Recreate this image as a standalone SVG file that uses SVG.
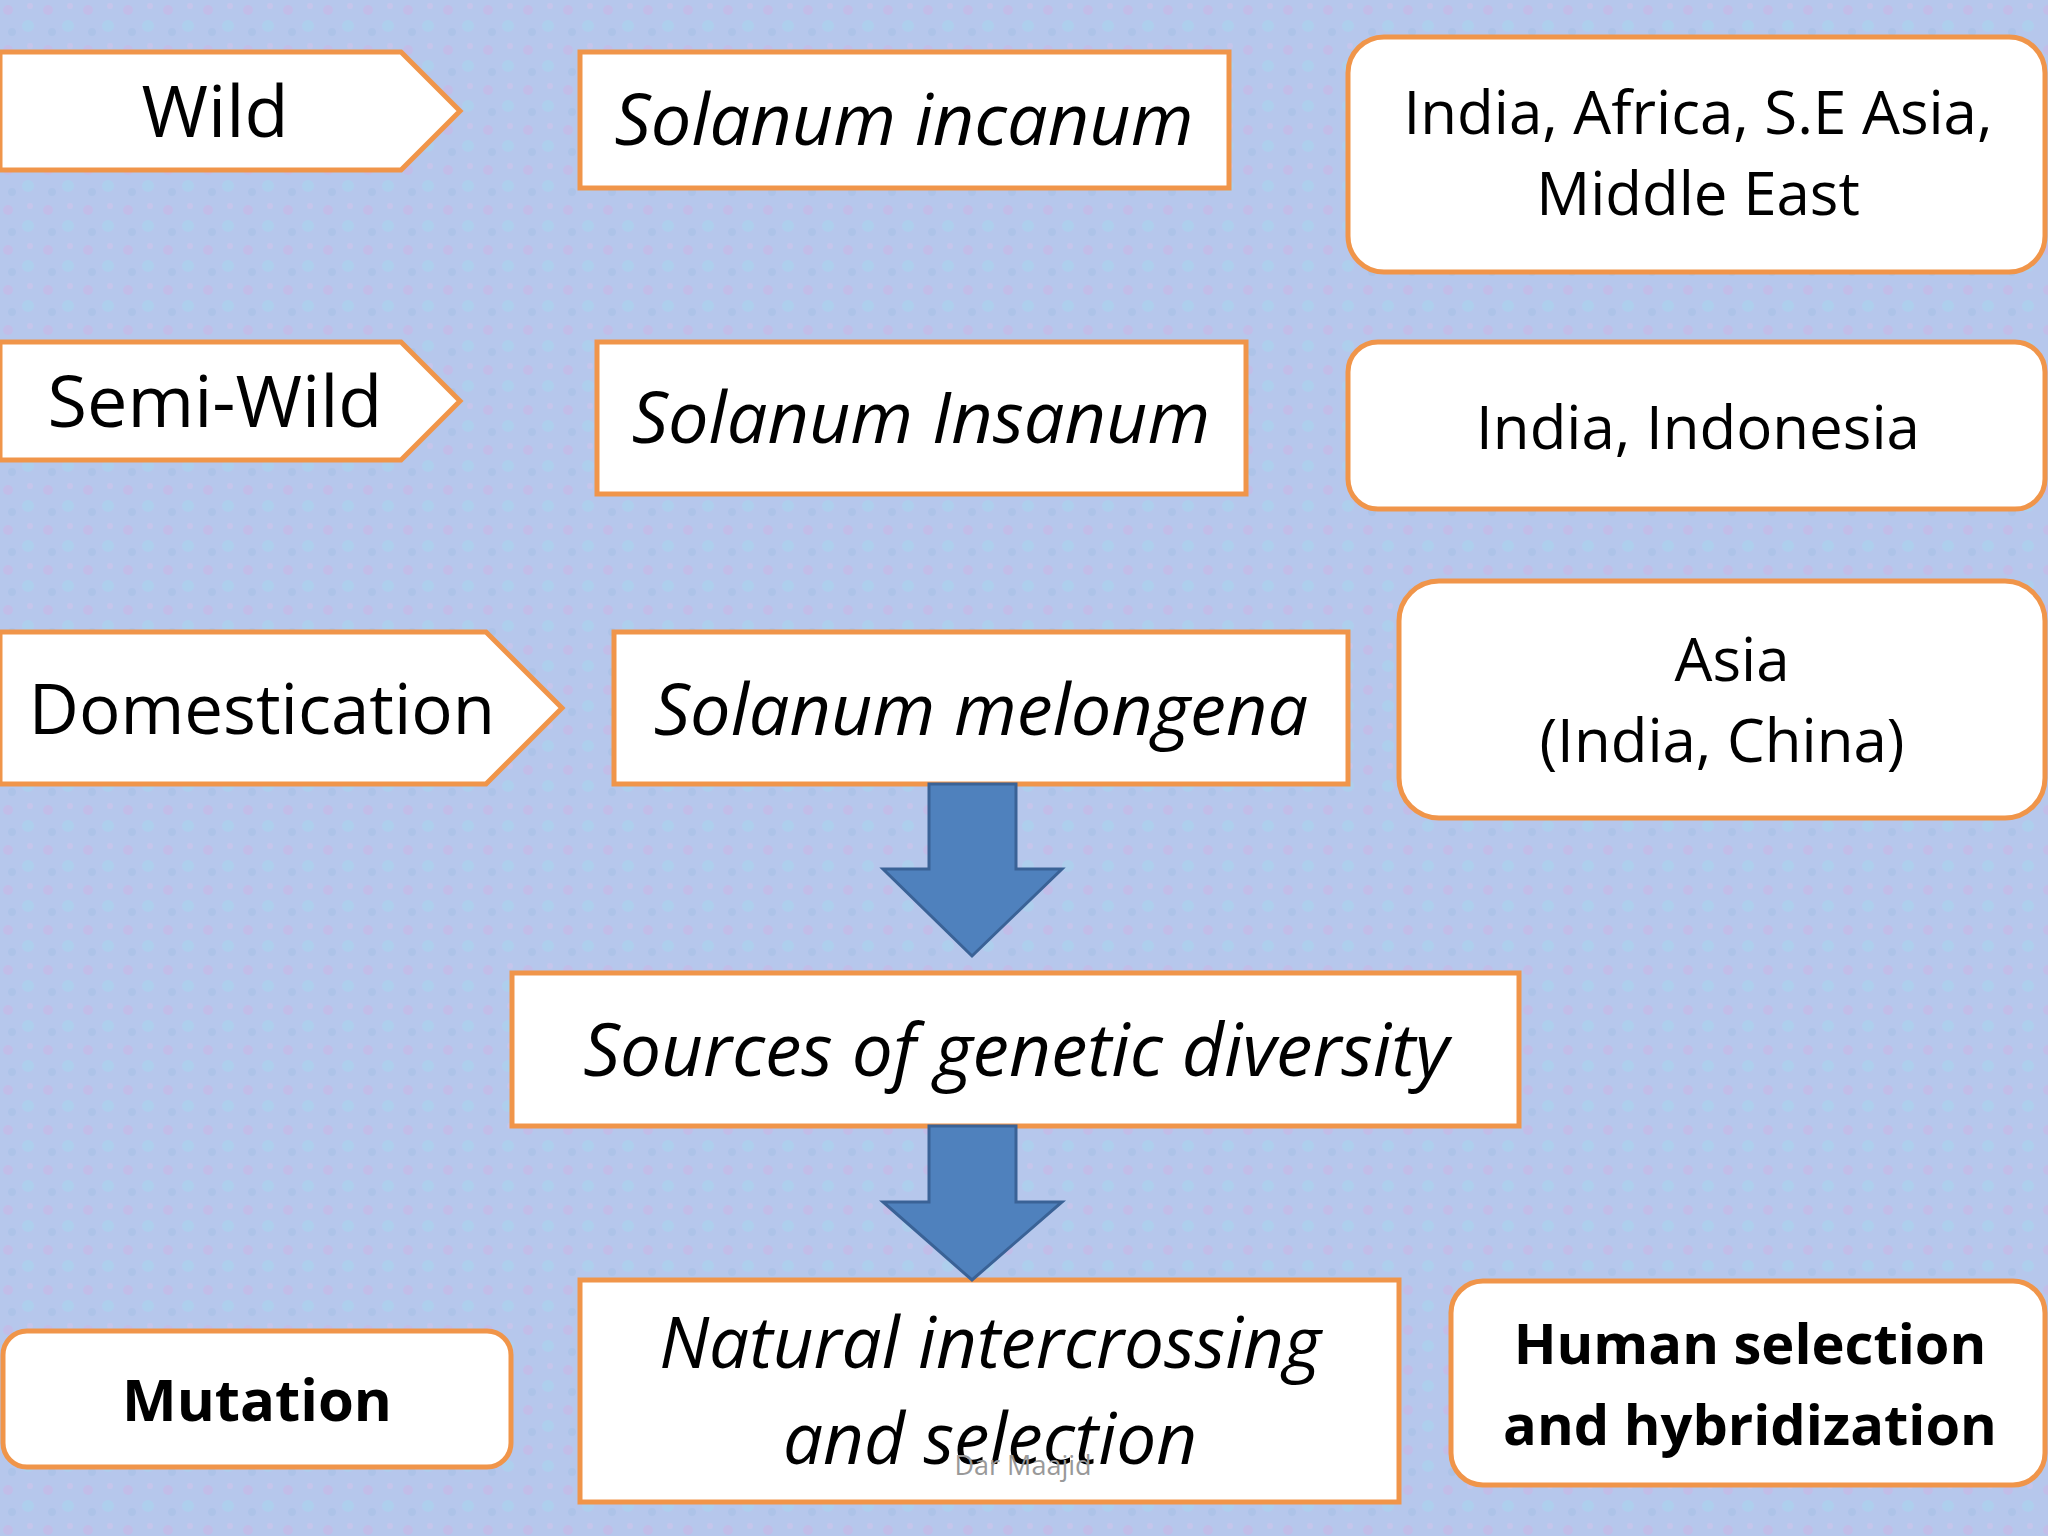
<svg xmlns="http://www.w3.org/2000/svg" width="2048" height="1536" viewBox="0 0 2048 1536">
<defs>
<pattern id="tex" width="40" height="40" patternUnits="userSpaceOnUse">
<rect width="40" height="40" fill="#b6c7ec"/>
<circle cx="8" cy="10" r="5" fill="#c9b6e6" opacity="0.6"/>
<circle cx="28" cy="26" r="6" fill="#a9d3ef" opacity="0.6"/>
<circle cx="30" cy="6" r="3" fill="#d6c3ea" opacity="0.5"/>
<circle cx="12" cy="32" r="4" fill="#a6bfe6" opacity="0.6"/>
</pattern>
</defs>
<style>
.b{fill:#fff;stroke:#f0954a;stroke-width:5}
.t{font-family:"Open Sans","Noto Sans",sans-serif;fill:#000;text-anchor:middle}
.i{font-style:italic}
.ar{fill:#4f81bd;stroke:#3a6296;stroke-width:3}
</style>
<rect width="2048" height="1536" fill="url(#tex)"/>
<g id="wild"><path class="b" d="M0 52H401L460 111L401 170H0Z"/><text class="t" x="215" y="137" font-size="72">Wild</text></g>
<g id="semiwild"><path class="b" d="M0 342H401L460 401L401 460H0Z"/><text class="t" x="215" y="427" font-size="72">Semi-Wild</text></g>
<g id="domestication"><path class="b" d="M0 632H486L562 708L486 784H0Z"/><text class="t" x="262" y="734" font-size="69">Domestication</text></g>
<g id="incanum"><rect class="b" x="580" y="52" width="649" height="136"/><text class="t i" x="904" y="145" font-size="72">Solanum incanum</text></g>
<g id="insanum"><rect class="b" x="597" y="342" width="649" height="152"/><text class="t i" x="921" y="443" font-size="72">Solanum Insanum</text></g>
<g id="melongena"><rect class="b" x="614" y="632" width="734" height="152"/><text class="t i" x="981" y="735" font-size="72">Solanum melongena</text></g>
<g id="r1"><rect class="b" x="1348" y="37" width="697" height="235" rx="36"/><text class="t" x="1698" y="134" font-size="60">India, Africa, S.E Asia,</text><text class="t" x="1698" y="215" font-size="60">Middle East</text></g>
<g id="r2"><rect class="b" x="1348" y="342" width="697" height="167" rx="30"/><text class="t" x="1698" y="449" font-size="60">India, Indonesia</text></g>
<g id="r3"><rect class="b" x="1399" y="581" width="646" height="237" rx="40"/><text class="t" x="1732" y="681" font-size="60">Asia</text><text class="t" x="1722" y="762" font-size="60">(India, China)</text></g>
<g id="sources"><rect class="b" x="512" y="973" width="1007" height="153"/><text class="t i" x="1016" y="1076" font-size="73">Sources of genetic diversity</text></g>
<g id="natural"><rect class="b" x="580" y="1280" width="819" height="222"/><text class="t i" x="990" y="1368" font-size="71">Natural intercrossing</text><text class="t i" x="990" y="1464" font-size="71">and selection</text></g>
<g id="mutation"><rect class="b" x="3" y="1331" width="508" height="136" rx="24"/><text class="t" x="257" y="1421" font-size="58" font-weight="bold">Mutation</text></g>
<g id="human"><rect class="b" x="1451" y="1281" width="594" height="204" rx="32"/><text class="t" x="1750" y="1364" font-size="56" font-weight="bold">Human selection</text><text class="t" x="1750" y="1445" font-size="56" font-weight="bold">and hybridization</text></g>
<g id="connectors">
<path class="ar" d="M929 784H1016V869H1062L972 956L883 869H929Z"/>
<path class="ar" d="M929 1126H1016V1202H1062L972 1280L883 1202H929Z"/>
</g>
<text x="1023" y="1475" font-family="Open Sans, sans-serif" font-size="27" fill="#999" text-anchor="middle">Dar Maajid</text>
</svg>
